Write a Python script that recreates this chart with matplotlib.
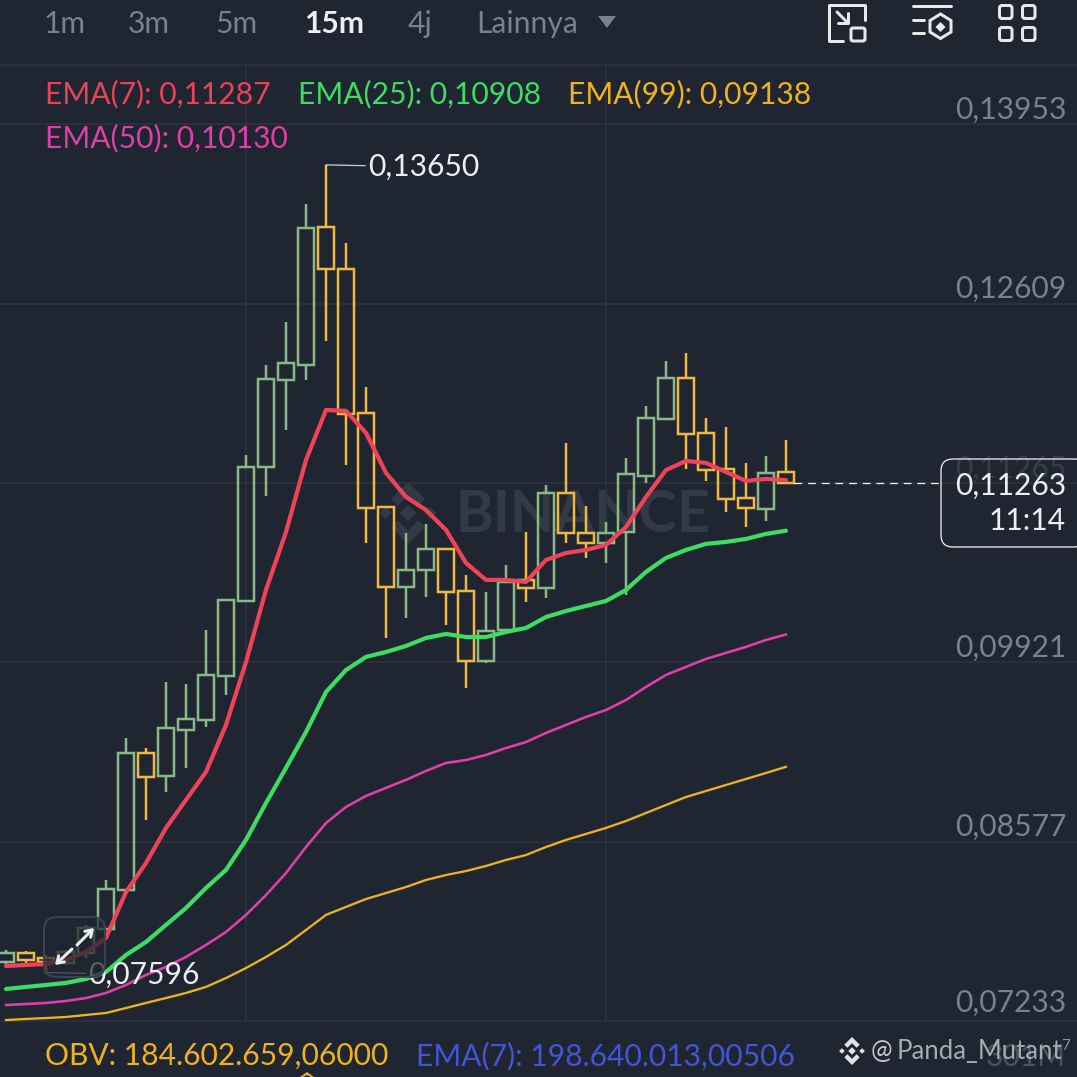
import matplotlib
matplotlib.use("Agg")
import matplotlib.pyplot as plt
from matplotlib.patches import Rectangle, FancyBboxPatch, Polygon

plt.rcParams['font.family'] = ['Lato', 'DejaVu Sans']

# ---------- data ----------
opens = [0.07675,0.07743,0.07705,0.07668,0.07743,0.07923,0.08215,0.09242,0.09070,0.09414,
         0.09489,0.09819,0.10381,0.11386,0.12038,0.12150,0.13185,0.12870,0.11791,0.11086,
         0.10486,0.10614,0.10771,0.10456,0.09932,0.10164,0.10539,0.10479,0.11191,0.10891,
         0.10816,0.10899,0.11318,0.11746,0.12053,0.11641,0.11371,0.11153,0.11071,0.11348]
closes = [0.07743,0.07690,0.07675,0.07750,0.07930,0.08223,0.09242,0.09062,0.09429,0.09497,
          0.09827,0.10389,0.11386,0.12045,0.12165,0.13177,0.12870,0.11783,0.11079,0.10486,
          0.10614,0.10771,0.10449,0.09932,0.10156,0.10524,0.10479,0.11191,0.10891,0.10816,
          0.10891,0.11333,0.11753,0.12053,0.11633,0.11363,0.11146,0.11079,0.11341,0.11263]
highs = [0.07765,0.07758,0.07728,0.07765,0.07953,0.08290,0.09354,0.09279,0.09774,0.09760,
         0.10164,0.10389,0.11476,0.12150,0.12473,0.13357,0.13650,0.13065,0.11986,0.11086,
         0.10891,0.10959,0.10771,0.10576,0.10449,0.10651,0.10899,0.11251,0.11566,0.11093,
         0.10974,0.11453,0.11843,0.12180,0.12240,0.11753,0.11686,0.11416,0.11468,0.11588]
lows = [0.07653,0.07645,0.07596,0.07653,0.07705,0.07923,0.08215,0.08740,0.08950,0.09130,
        0.09437,0.09677,0.10381,0.11168,0.11663,0.12038,0.12330,0.11401,0.10816,0.10104,
        0.10254,0.10411,0.10201,0.09729,0.09917,0.10164,0.10374,0.10404,0.10816,0.10704,
        0.10666,0.10426,0.11266,0.11746,0.11371,0.11281,0.11049,0.10936,0.10981,0.11263]

ema7 = [0.07645,0.07653,0.07660,0.07690,0.07750,0.07855,0.08200,0.08417,0.08680,0.08890,
        0.09100,0.09452,0.09924,0.10464,0.10898,0.11438,0.11813,0.11806,0.11641,0.11341,
        0.11161,0.11063,0.10914,0.10666,0.10539,0.10539,0.10524,0.10689,0.10741,0.10764,
        0.10801,0.10936,0.11161,0.11363,0.11431,0.11416,0.11348,0.11281,0.11296,0.11287]
ema25 = [0.07473,0.07488,0.07503,0.07518,0.07548,0.07600,0.07728,0.07825,0.07953,0.08080,
         0.08230,0.08365,0.08590,0.08867,0.09130,0.09399,0.09699,0.09864,0.09962,0.09999,
         0.10044,0.10104,0.10134,0.10111,0.10111,0.10149,0.10179,0.10261,0.10306,0.10344,
         0.10381,0.10464,0.10599,0.10704,0.10764,0.10809,0.10824,0.10846,0.10884,0.10908]
ema50 = [0.07353,0.07360,0.07368,0.07383,0.07405,0.07443,0.07503,0.07578,0.07638,0.07713,
         0.07803,0.07900,0.08028,0.08177,0.08342,0.08537,0.08717,0.08837,0.08920,0.08980,
         0.09040,0.09107,0.09167,0.09189,0.09227,0.09279,0.09324,0.09392,0.09452,0.09512,
         0.09564,0.09639,0.09737,0.09827,0.09887,0.09947,0.09992,0.10037,0.10089,0.10130]
ema99 = [0.07240,0.07248,0.07255,0.07263,0.07278,0.07293,0.07330,0.07368,0.07405,0.07443,
         0.07488,0.07555,0.07630,0.07713,0.07803,0.07915,0.08028,0.08088,0.08147,0.08192,
         0.08237,0.08290,0.08327,0.08357,0.08395,0.08440,0.08477,0.08537,0.08590,0.08635,
         0.08680,0.08732,0.08792,0.08852,0.08912,0.08957,0.09002,0.09047,0.09092,0.09138]

price_ticks = [0.13953,0.12609,0.11265,0.09921,0.08577,0.07233]
price_labels = ['0,13953','0,12609','0,11265','0,09921','0,08577','0,07233']
time_grid = [12, 30]
last_price = 0.11263
high_label = '0,13650'
low_label = '0,07596'
tabs = ['1m','3m','5m','15m','4j','Lainnya']

# ---------- style ----------
BG='#1f2631'; GRID='#2e3540'; GREEN='#8ab88a'; ORANGE='#f0b840'
RED='#f0435a'; EMA25C='#3ddc62'; EMA50C='#e03fa8'; EMA99C='#efb11c'
GRAY='#78818e'; WHITE='#eceef1'; WM='#323a46'
PX=0.72  # points per pixel
FS=21.6

fig=plt.figure(figsize=(10.77,10.77),dpi=100,facecolor=BG)
ax=fig.add_axes([0,0,1,1],facecolor=BG,zorder=1)
ax.set_xlim(-0.3,53.55)
ax.set_ylim(0.06813,0.14886)
for s in ax.spines.values(): s.set_visible(False)
ax.set_xticks([]); ax.set_yticks([])

ui=fig.add_axes([0,0,1,1],facecolor='none',zorder=2)
ui.set_xlim(0,1077); ui.set_ylim(1077,0); ui.axis('off')

def logo(target,trans,cx,cy,s,color,z):
    def dia(x,y,r):
        target.add_patch(Polygon([(x,y-r),(x+r,y),(x,y+r),(x-r,y)],closed=True,fc=color,ec='none',transform=trans,zorder=z,clip_on=False))
    dia(cx,cy,0.27*s); dia(cx-0.72*s,cy,0.2*s); dia(cx+0.72*s,cy,0.2*s)
    for sgn in (1,-1):
        pts=[(cx,cy-sgn*1.0*s),(cx+0.55*s,cy-sgn*0.45*s),(cx+0.33*s,cy-sgn*0.23*s),(cx,cy-sgn*0.56*s),(cx-0.33*s,cy-sgn*0.23*s),(cx-0.55*s,cy-sgn*0.45*s)]
        target.add_patch(Polygon(pts,closed=True,fc=color,ec='none',transform=trans,zorder=z,clip_on=False))

# watermark behind the candles
logo(ax,ui.transData,408,513,31,WM,0.6)
ax.text(455,532,'BINANCE',transform=ui.transData,color=WM,fontsize=41.5,fontweight='bold',va='baseline',ha='left',zorder=0.6)

# grid
for v in price_ticks:
    ax.axhline(v,color=GRID,lw=1.5*PX,zorder=1)
for t in time_grid:
    ax.plot([t,t],[price_ticks[-1],0.14886-66*0.00007496],color=GRID,lw=1.5*PX,zorder=1)
ui.plot([0,1077],[65,65],color='#2a313c',lw=2.5*PX,zorder=1)

# price tick labels
for v,l in zip(price_ticks,price_labels):
    col = '#363e4a' if l=='0,11265' else GRAY
    dy = 9 if l=='0,07233' else 5.5
    ax.annotate(l,xy=(1,v),xycoords=ax.get_yaxis_transform(),xytext=(-11*PX,dy*PX),textcoords='offset points',
                ha='right',va='baseline',color=col,fontsize=FS,zorder=2)

# candles
for i,(o,h,l,c) in enumerate(zip(opens,highs,lows,closes)):
    col=GREEN if c>=o else ORANGE
    top,bot=max(o,c),min(o,c)
    ax.plot([i,i],[top,h],color=col,lw=2.5*PX,solid_capstyle='butt',zorder=3)
    ax.plot([i,i],[l,bot],color=col,lw=2.5*PX,solid_capstyle='butt',zorder=3)
    ax.add_patch(Rectangle((i-0.4,bot),0.8,top-bot,fc='none',ec=col,lw=2.5*PX,zorder=3,joinstyle='miter'))

# EMA lines
x=list(range(len(ema7)))
ax.plot(x,ema99,color=EMA99C,lw=2.3*PX,zorder=4)
ax.plot(x,ema50,color=EMA50C,lw=2.6*PX,zorder=4)
ax.plot(x,ema25,color=EMA25C,lw=4.2*PX,zorder=4,solid_capstyle='round')
ax.plot(x,ema7,color=RED,lw=4.2*PX,zorder=4,solid_capstyle='round')

# last-price dashed line
ax.plot([39.4,46.75],[last_price,last_price],color=WHITE,lw=1.3*PX,dashes=(6,4.5),zorder=3)

# high / low labels
ax.annotate(high_label,xy=(16,highs[16]),xytext=(42*PX,-2*PX),textcoords='offset points',color=WHITE,fontsize=FS,
            ha='left',va='center',zorder=5,arrowprops=dict(arrowstyle='-',color='#c8ccd2',lw=1.3*PX,shrinkA=0,shrinkB=0))
ax.annotate(low_label,xy=(2,lows[2]),xytext=(42*PX,-2*PX),textcoords='offset points',color=WHITE,fontsize=FS,
            ha='left',va='center',zorder=5,arrowprops=dict(arrowstyle='-',color='#c8ccd2',lw=1.3*PX,shrinkA=0,shrinkB=0))

def T(x,y,s,color,fs=FS,ha='left',w='normal',z=6):
    ui.text(x,y,s,color=color,fontsize=fs,ha=ha,va='baseline',fontweight=w,zorder=z)

# tabs
for px,s in zip([44,128,215,304,408,476],tabs):
    if s=='15m': T(px,33,s,WHITE,w='bold')
    else: T(px,33,s,GRAY)
ui.add_patch(Polygon([(598,16),(616,16),(607,28)],closed=True,fc=GRAY,ec='none'))

# legends
T(45,103,'EMA(7): 0,11287','#ea4358')
T(298,103,'EMA(25): 0,10908',EMA25C)
T(568,103,'EMA(99): 0,09138',EMA99C)
T(45,147,'EMA(50): 0,10130',EMA50C)
T(45,1065,'OBV: 184.602.659,06000',EMA99C)
T(416,1065,'EMA(7): 198.640.013,00506','#4355d6')

# ghost volume axis + attribution
T(1066,1066,'301M','#4a525e',ha='right')
T(1070,1050,'7','#8a929e',fs=11,ha='right')
logo(ui,ui.transData,852,1051,14,'#dfe2e6',6)
T(871,1059,'@','#c4c8cd',fs=18.5)
T(897,1059,'Panda_Mutant','#a5abb3',fs=18.5)
ui.add_patch(Polygon([(300,1077),(307,1072),(314,1077),(311,1077),(307,1075),(303,1077)],closed=True,fc=EMA99C,ec='none'))

# current-price box
ui.add_patch(FancyBboxPatch((941,459),146,88,boxstyle='round,pad=0,rounding_size=12',fc='none',ec=WHITE,lw=1.3*PX,zorder=5))
T(1066,495,'0,11263',WHITE,ha='right')
T(1066,530,'11:14',WHITE,ha='right')

# expand button
ui.add_patch(FancyBboxPatch((44,917),61,60,boxstyle='round,pad=0,rounding_size=13',fc=BG,alpha=0.72,ec='none',zorder=5))
ui.add_patch(FancyBboxPatch((44,917),61,60,boxstyle='round,pad=0,rounding_size=13',fc='none',ec='#3b4350',lw=2*PX,zorder=5))
ui.annotate('',xy=(94,928),xytext=(77,945),arrowprops=dict(arrowstyle='->,head_length=0.45,head_width=0.3',color=WHITE,lw=3*PX,shrinkA=0,shrinkB=0),zorder=6)
ui.annotate('',xy=(55,965),xytext=(72,949),arrowprops=dict(arrowstyle='->,head_length=0.45,head_width=0.3',color=WHITE,lw=3*PX,shrinkA=0,shrinkB=0),zorder=6)

# toolbar icons
IC='#e6e8eb'; LW=3*PX
def L(xs,ys): ui.plot(xs,ys,color=IC,lw=LW,solid_capstyle='round',solid_joinstyle='round',zorder=6)
L([843,829,829,865,865],[41,41,5,5,20])
ui.add_patch(FancyBboxPatch((851,28),14,13,boxstyle='round,pad=0,rounding_size=2',fc='none',ec=IC,lw=LW))
L([837,848],[12,23]); L([838,848,848],[23,23,13])
L([913,951],[6,6]); L([913,924],[20,20]); L([913,924],[33,33])
ui.add_patch(Polygon([(940.5,14),(951,20.5),(951,32),(940.5,38.5),(930,32),(930,20.5)],closed=True,fc='none',ec=IC,lw=LW))
ui.add_patch(Polygon([(940.5,22),(945.5,27),(940.5,32),(935.5,27)],closed=True,fc=IC,ec='none'))
for ix in (999.5,1022.5):
    for iy in (5.5,27.5):
        ui.add_patch(FancyBboxPatch((ix,iy),12.5,13,boxstyle='round,pad=0,rounding_size=2.5',fc='none',ec=IC,lw=LW))

fig.savefig('out.png',dpi=100,facecolor=BG)
